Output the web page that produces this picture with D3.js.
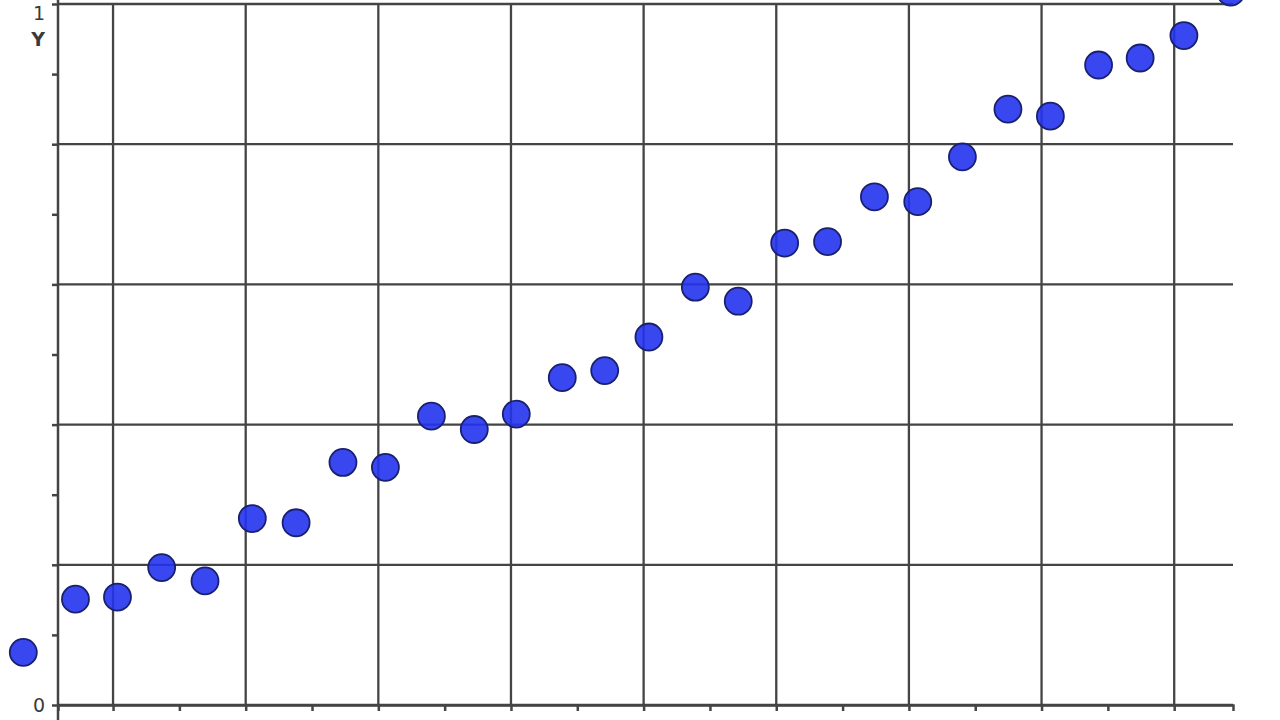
<!DOCTYPE html>
<html>
<head>
<meta charset="utf-8">
<script src="https://cdn.jsdelivr.net/npm/d3@7/dist/d3.min.js"></script>
<style>
    html, body { margin: 0; padding: 0; background: #fff; }
    svg { display: block; }
</style>
</head>
<body>
<div id="chart"></div>
<script>
// Values
const xValues = [-2.03, -0.85, 0.1, 1.1, 2.08, 3.15, 4.14, 5.2, 6.16, 7.2, 8.17, 9.12, 10.16, 11.12,
    12.12, 13.17, 14.14, 15.19, 16.16, 17.22, 18.2, 19.21, 20.24, 21.2, 22.29, 23.23, 24.22, 25.28];
const yValues = [0.075, 0.151, 0.154, 0.196, 0.177, 0.266, 0.260, 0.346, 0.339, 0.412, 0.393, 0.415, 0.467, 0.477,
    0.525, 0.596, 0.576, 0.659, 0.661, 0.725, 0.718, 0.782, 0.850, 0.840, 0.913, 0.923, 0.955, 1.017];

// Grid and ticks
const gridX = [0, 3, 6, 9, 12, 15, 18, 21, 24];
const minorX = [1.5, 4.5, 7.5, 10.5, 13.5, 16.5, 19.5, 22.5];
const gridY = [0, 0.2, 0.4, 0.6, 0.8, 1];
const ticksY = [0, 0.1, 0.2, 0.3, 0.4, 0.5, 0.6, 0.7, 0.8, 0.9, 1];
const yTickLabels = [[0, "0"], [1, "1"]];
const yTitle = "Y";

const margin = { top: 4, right: 47, bottom: 15, left: 58 },
    width = 1280 - margin.left - margin.right,
    height = 720 - margin.top - margin.bottom;

const lineColor = "#444";
const fontFamily = "'DejaVu Sans', 'Liberation Sans', sans-serif";

const svg = d3.select("#chart")
    .append("svg")
    .attr("width", width + margin.left + margin.right)
    .attr("height", height + margin.top + margin.bottom)
    .style("background", "#fff")
    .append("g")
    .attr("transform", `translate(${margin.left},${margin.top})`);

// Scales
const x = d3.scaleLinear()
    .domain([-1.245, 25.33])
    .range([0, width]);

const y = d3.scaleLinear()
    .domain([0, 1])
    .range([height, 0]);

// Gridlines
svg.append("g")
    .selectAll("line")
    .data(gridX)
    .join("line")
    .attr("x1", d => x(d)).attr("x2", d => x(d))
    .attr("y1", y(1)).attr("y2", height)
    .attr("stroke", lineColor)
    .attr("stroke-width", 2.3);

svg.append("g")
    .selectAll("line")
    .data(gridY)
    .join("line")
    .attr("x1", 0).attr("x2", width)
    .attr("y1", d => y(d)).attr("y2", d => y(d))
    .attr("stroke", lineColor)
    .attr("stroke-width", 2.3);

// X axis
const labelMap = new Map(yTickLabels);

const xAxis = svg.append("g")
    .attr("transform", `translate(0,${height})`)
    .call(d3.axisBottom(x)
        .tickValues(gridX.concat(minorX))
        .tickSize(6)
        .tickSizeOuter(6)
        .tickFormat(""));

// Y axis
const yAxis = svg.append("g")
    .call(d3.axisLeft(y)
        .tickValues(ticksY)
        .tickSize(6)
        .tickSizeOuter(0)
        .tickPadding(7)
        .tickFormat(d => labelMap.get(d) || ""));

yAxis.select(".domain")
    .attr("d", `M0,${-margin.top}V${height + margin.bottom}`);

[xAxis, yAxis].forEach(a => {
    a.selectAll("path, line")
        .attr("stroke", lineColor)
        .attr("stroke-width", 2.5);
    a.selectAll("text")
        .style("font-family", fontFamily)
        .style("font-size", "19px")
        .attr("fill", "#3a3a3a");
});

// keep the top label inside the picture
yAxis.selectAll(".tick text")
    .filter(d => d === 1)
    .attr("dy", "0.8em");

// Axis title
svg.append("text")
    .attr("x", -20)
    .attr("y", 42)
    .attr("text-anchor", "middle")
    .style("font-family", fontFamily)
    .style("font-size", "19px")
    .style("font-weight", "bold")
    .attr("fill", "#3a3a3a")
    .text(yTitle);

// Points
svg.append("g")
    .selectAll("circle")
    .data(xValues.map((d, i) => [d, yValues[i]]))
    .join("circle")
    .attr("cx", d => x(d[0]))
    .attr("cy", d => y(d[1]))
    .attr("r", 13.5)
    .attr("fill", "#2333f0")
    .attr("fill-opacity", 0.9)
    .attr("stroke", "#1a2070")
    .attr("stroke-width", 1.8);
</script>
</body>
</html>
